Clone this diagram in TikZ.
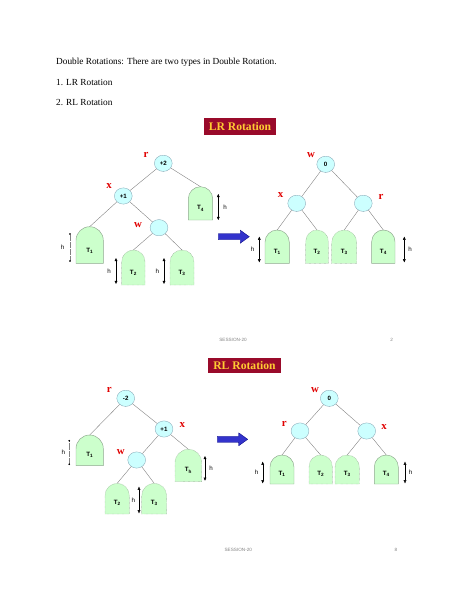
\documentclass[tikz,border=0pt]{standalone}
\usepackage{fontspec}
\setmainfont{Liberation Serif}
\setsansfont{Liberation Sans}
\usetikzlibrary{arrows.meta,shapes.geometric}

\definecolor{nodefill}{HTML}{CCFFFF}
\definecolor{nodeline}{HTML}{7F9FAF}
\definecolor{treefill}{HTML}{CCFFCC}
\definecolor{treeline}{HTML}{8FA88F}
\definecolor{bannerred}{HTML}{990A2A}
\definecolor{banneryellow}{HTML}{FFCC33}
\definecolor{arrowblue}{HTML}{3333CC}
\definecolor{labelred}{HTML}{E00000}

\tikzset{
  bal/.style={ellipse, draw=nodeline, fill=nodefill, minimum width=23pt, minimum height=21pt,
              inner sep=0pt, font=\sffamily\bfseries\fontsize{8}{8}\selectfont},
  lbl/.style={text=labelred, font=\bfseries\fontsize{14}{14}\selectfont, inner sep=0pt},
  edge/.style={draw=gray, line width=0.5pt},
  treebox/.style={draw=treeline, fill=treefill, line width=0.6pt},
  tlabel/.style={font=\sffamily\bfseries\fontsize{8}{8}\selectfont, inner sep=0pt},
  hlabel/.style={font=\sffamily\fontsize{8}{8}\selectfont, inner sep=0pt},
  harrow/.style={line width=0.5pt, {Triangle[length=4pt,width=3.5pt]}-{Triangle[length=4pt,width=3.5pt]}},
  hdots/.style={gray, densely dotted, line width=0.5pt, {Circle[length=2pt,black]}-{Circle[length=2pt,black]}},
  banner/.style={fill=bannerred, text=banneryellow, minimum width=93pt, minimum height=21pt,
                 font=\bfseries\fontsize{15}{15}\selectfont, inner sep=0pt},
  bigarrow/.style={fill=arrowblue, draw=blue!50!black, line width=0.4pt},
  footer/.style={text=gray, font=\sffamily\fontsize{6}{6}\selectfont, inner sep=0pt},
  body/.style={anchor=base west, font=\fontsize{12}{14}\selectfont, inner sep=0pt}
}

% subtree: [style]{name}{left}{right}{top}{bottom}{label}
\newcommand{\subtree}[7][solid]{%
  \pgfmathsetmacro{\rad}{(#4-#3)/2}
  \draw[treebox,#1] (#3,#6) -- (#3,#5+\rad) arc[start angle=180,end angle=0,radius=\rad*1.2911pt]
        -- (#4,#6) -- cycle;
  \coordinate (#2) at ({(#3+#4)/2},#5);
  \node[tlabel] (#2lbl) at ({(#3+#4)/2},{#6-0.35*(#6-#5)}) {#7};
}
% height mark: [style]{name}{x}{y1}{y2}{label x}
\newcommand{\hmark}[6][harrow]{%
  \coordinate (#2a) at (#3,#4);
  \coordinate (#2b) at (#3,#5);
  \draw[#1] (#2a) -- (#2b);
  \node[hlabel] (#2h) at (#6,{(#4+#5)/2}) {h};
}
% blue arrow between trees: {x1}{x2}{y}
\newcommand{\rotarrow}[3]{%
  \filldraw[bigarrow] (#1,#3-3) -- ({#2-9},#3-3) -- ({#2-9},#3-6.5) -- (#2,#3)
        -- ({#2-9},#3+6.5) -- ({#2-9},#3+3) -- (#1,#3+3) -- cycle;
}
\newcommand{\tsub}[1]{T\textsubscript{#1}}

\begin{document}
\begin{tikzpicture}[x=1.2911pt, y=-1.2911pt]
  \useasboundingbox (0,0) rectangle (474,613);

  \node[body] (intro) at (56,65) {Double Rotations: There are two types in Double Rotation.};
  \node[body] (item1) at (56,85) {1. LR Rotation};
  \node[body] (item2) at (56,105) {2. RL Rotation};

  %% LR rotation
  \node[banner] (lrtitle) at (240,126.5) {LR Rotation};

  % before
  \subtree{lrta}{188.3}{212.7}{186.7}{220}{\tsub{4}}
  \subtree{lrtb}{76}{103.3}{226.7}{263.3}{\tsub{1}}
  \subtree[densely dotted]{lrtc}{121.7}{145}{250}{285}{\tsub{2}}
  \subtree[densely dotted]{lrtd}{170}{194}{250}{285}{\tsub{3}}
  \node[bal] (lrr) at (163.3,163.3) {+2};
  \node[bal] (lrx) at (123.3,196) {+1};
  \node[bal] (lrw) at (159,227.7) {};
  \draw[edge] (lrr) -- (lrx) (lrr) -- (lrta) (lrx) -- (lrtb) (lrx) -- (lrw)
              (lrw) -- (lrtc) (lrw) -- (lrtd);
  \node[lbl] (lrrl) at (146,155) {r};
  \node[lbl] (lrxl) at (109,186) {x};
  \node[lbl] (lrwl) at (138,225) {w};
  \hmark{lrha}{218.3}{194}{220}{225}
  \hmark[hdots]{lrhb}{70}{233.3}{261.7}{62.7}
  \hmark{lrhc}{116}{258}{284}{109}
  \hmark{lrhd}{164}{258}{284}{157.3}

  \rotarrow{218.3}{249.3}{236.7}

  % after
  \subtree{lrsa}{265}{289.3}{230}{263.3}{\tsub{1}}
  \subtree[densely dotted]{lrsb}{305.7}{328.3}{230}{263.3}{\tsub{2}}
  \subtree[densely dotted]{lrsc}{331.7}{356.7}{230}{263.3}{\tsub{3}}
  \subtree{lrsd}{371.7}{395}{230}{263.3}{\tsub{4}}
  \node[bal] (lrw2) at (325.7,164.3) {0};
  \node[bal] (lrx2) at (296.7,203.3) {};
  \node[bal] (lrr2) at (363.3,203.3) {};
  \draw[edge] (lrw2) -- (lrx2) (lrw2) -- (lrr2) (lrx2) -- (lrsa) (lrx2) -- (lrsb)
              (lrr2) -- (lrsc) (lrr2) -- (lrsd);
  \node[lbl] (lrwl2) at (311,155) {w};
  \node[lbl] (lrxl2) at (280.7,195) {x};
  \node[lbl] (lrrl2) at (381,196.7) {r};
  \hmark{lrhe}{259.3}{236.7}{262.3}{252.7}
  \hmark{lrhf}{404.3}{236.7}{262.3}{410}

  \node[footer] (foota) at (233,340) {SESSION-20};
  \node[footer] (pagea) at (391.7,340) {2};

  %% RL rotation
  \node[banner, minimum height=20pt] (rltitle) at (244.5,365.3) {RL Rotation};

  % before
  \subtree{rlta}{76}{103.3}{435}{465.7}{\tsub{1}}
  \subtree[densely dotted]{rltb}{175}{201.7}{449.3}{481.7}{\tsub{h}}
  \subtree[densely dotted]{rltc}{105}{129.3}{483.3}{514}{\tsub{2}}
  \subtree[densely dotted]{rltd}{141.7}{166.7}{483.3}{514}{\tsub{3}}
  \node[bal] (rlr) at (125.7,398.3) {-2};
  \node[bal] (rlx) at (164,429) {+1};
  \node[bal] (rlw) at (136.7,460) {};
  \draw[edge] (rlr) -- (rlta) (rlr) -- (rlx) (rlx) -- (rlw) (rlx) -- (rltb)
              (rlw) -- (rltc) (rlw) -- (rltd);
  \node[lbl] (rlrl) at (109.3,390) {r};
  \node[lbl] (rlxl) at (182.3,425) {x};
  \node[lbl] (rlwl) at (120.7,451.7) {w};
  \hmark[hdots]{rlha}{69.3}{440}{465}{63.3}
  \hmark{rlhb}{205}{456}{480.7}{211}
  \hmark{rlhc}{139}{486.7}{513.3}{133.3}

  \rotarrow{217.3}{247.7}{439.3}

  % after
  \subtree{rlsa}{270}{294}{455}{484}{\tsub{1}}
  \subtree[densely dotted]{rlsb}{309}{332.3}{455}{484}{\tsub{2}}
  \subtree[densely dotted]{rlsc}{335}{359.3}{455}{484}{\tsub{3}}
  \subtree{rlsd}{374.3}{398.3}{455}{484}{\tsub{4}}
  \node[bal] (rlw2) at (329.3,398.3) {0};
  \node[bal] (rlr2) at (300,431) {};
  \node[bal] (rlx2) at (366.7,431) {};
  \draw[edge] (rlw2) -- (rlr2) (rlw2) -- (rlx2) (rlr2) -- (rlsa) (rlr2) -- (rlsb)
              (rlx2) -- (rlsc) (rlx2) -- (rlsd);
  \node[lbl] (rlwl2) at (315,390) {w};
  \node[lbl] (rlrl2) at (284.3,424) {r};
  \node[lbl] (rlxl2) at (384,427.3) {x};
  \hmark{rlhd}{262.7}{461.7}{483.3}{256.7}
  \hmark{rlhe}{405}{461.7}{483.3}{410.5}

  \node[footer] (footb) at (238.3,550) {SESSION-20};
  \node[footer] (pageb) at (396,550) {8};
\end{tikzpicture}
\end{document}
